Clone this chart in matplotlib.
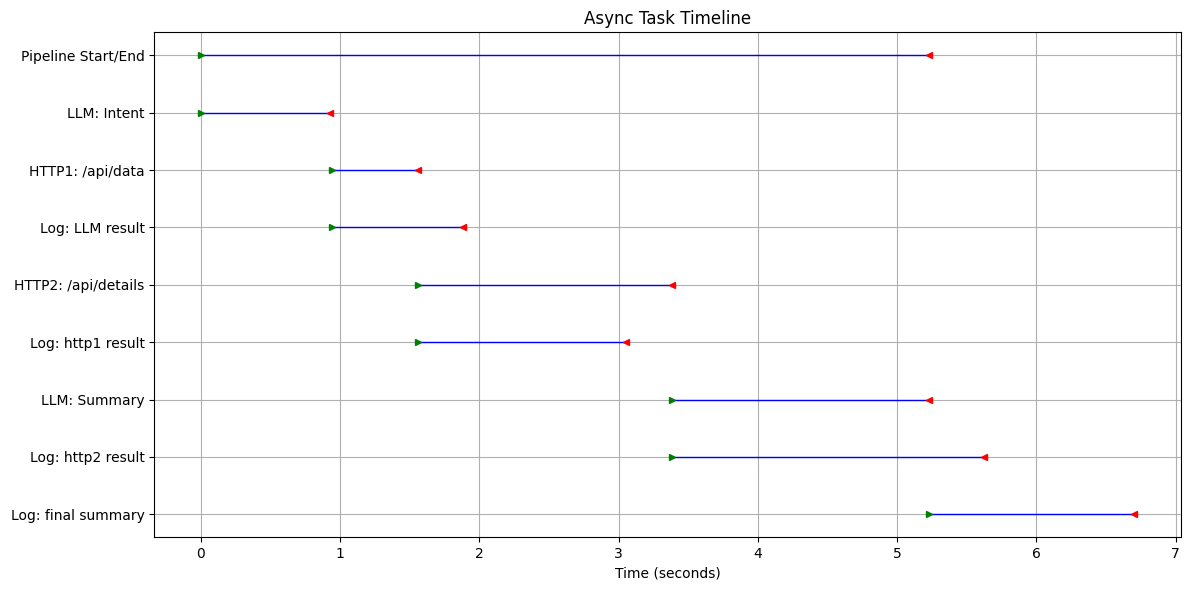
import matplotlib
matplotlib.use("Agg")
import matplotlib.pyplot as plt

tasks = ["Pipeline Start/End", "LLM: Intent", "HTTP1: /api/data", "Log: LLM result",
         "HTTP2: /api/details", "Log: http1 result", "LLM: Summary", "Log: http2 result",
         "Log: final summary"]
starts = [0.0, 0.0, 0.94, 0.94, 1.56, 1.56, 3.38, 3.38, 5.23]
ends = [5.23, 0.93, 1.56, 1.885, 3.38, 3.05, 5.23, 5.625, 6.70]

fig, ax = plt.subplots(figsize=(11.89, 5.90), dpi=100)
ys = list(range(len(tasks)))
ax.hlines(ys, starts, ends, colors="blue", linewidth=1)
ax.plot(starts, ys, ">", color="green", markersize=5, linestyle="none")
ax.plot(ends, ys, "<", color="red", markersize=5, linestyle="none")
ax.set_yticks(ys)
ax.set_yticklabels(tasks)
ax.invert_yaxis()
ax.set_xlabel("Time (seconds)")
ax.set_title("Async Task Timeline")
ax.grid(True)
ax.set_axisbelow(True)
fig.subplots_adjust(left=0.1298, right=0.9929, top=0.9453, bottom=0.0893)
fig.savefig("out.png", dpi=100)
